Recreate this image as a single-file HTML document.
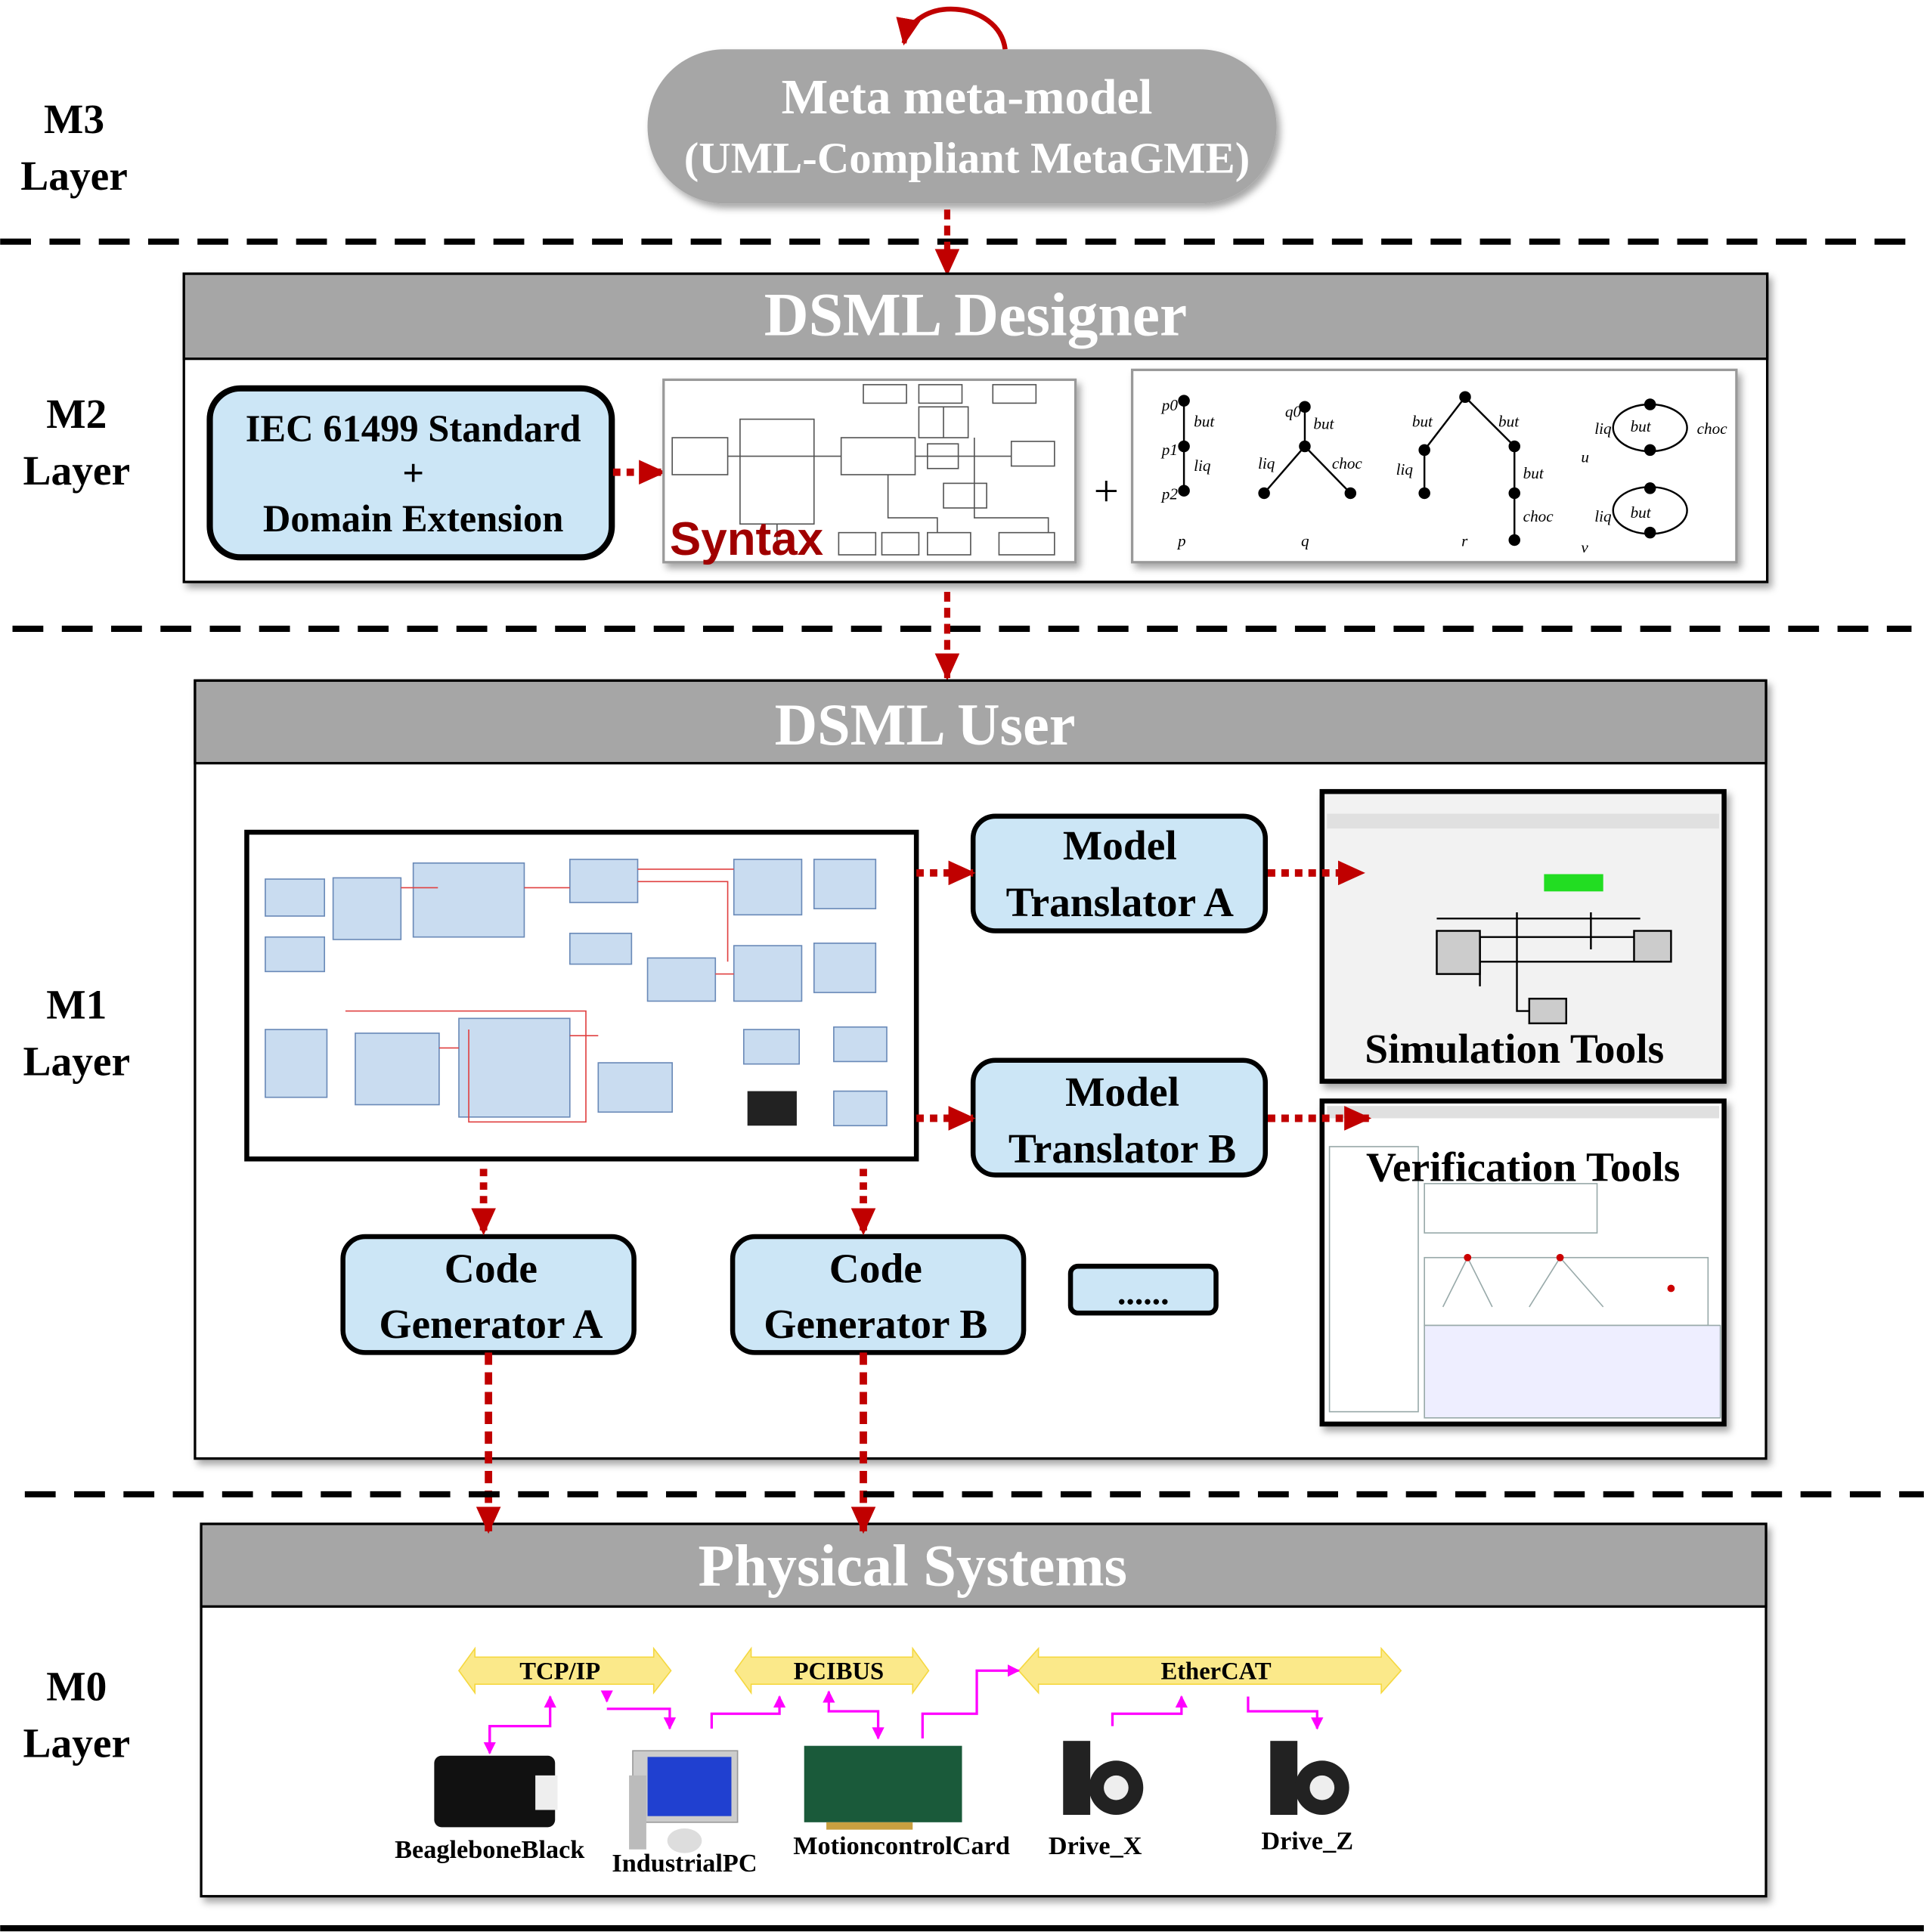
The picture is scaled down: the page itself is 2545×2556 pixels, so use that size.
<!DOCTYPE html>
<html><head><meta charset="utf-8"><style>html,body{margin:0;padding:0;background:#fff}svg{display:block}</style></head><body>
<svg width="2545" height="2556" viewBox="0 0 1560 1567" xmlns="http://www.w3.org/2000/svg" font-family="'Liberation Serif',serif" font-weight="bold">
<defs>
<marker id="ar" markerWidth="22" markerHeight="20" refX="20" refY="10" orient="auto" markerUnits="userSpaceOnUse"><path d="M0,0 L22,10 L0,20 z" fill="#c00000"/></marker>
<marker id="am" markerWidth="10" markerHeight="10" refX="9" refY="5" orient="auto" markerUnits="userSpaceOnUse"><path d="M0,0 L10,5 L0,10 z" fill="#ff00ff"/></marker>
<filter id="sh"><feDropShadow dx="3" dy="4" stdDeviation="3" flood-opacity="0.35"/></filter>
</defs>
<g font-size="34" text-anchor="middle" fill="#000">
<text x="60" y="108">M3</text><text x="60" y="154">Layer</text>
<text x="62" y="347">M2</text><text x="62" y="393">Layer</text>
<text x="62" y="826">M1</text><text x="62" y="872">Layer</text>
<text x="62" y="1379">M0</text><text x="62" y="1425">Layer</text>
</g>
<path d="M815,40 C810,0 740,-5 733,35" fill="none" stroke="#c00000" stroke-width="4" marker-end="url(#ar)"/>
<rect x="525" y="40" width="510" height="125" rx="62" fill="#a6a6a6" filter="url(#sh)"/>
<text x="784" y="92" font-size="40" fill="#fff" text-anchor="middle">Meta meta-model</text>
<text x="784" y="140" font-size="36" fill="#fff" text-anchor="middle">(UML-Compliant MetaGME)</text>
<line x1="0" y1="196" x2="1545" y2="196" stroke="#000" stroke-width="5" stroke-dasharray="25,15"/>
<line x1="768" y1="170" x2="768" y2="222" stroke="#c00000" stroke-width="5" stroke-dasharray="8,5" marker-end="url(#ar)"/>
<g filter="url(#sh)"><rect x="149" y="222" width="1284" height="250" fill="#fff" stroke="#000" stroke-width="2"/></g>
<rect x="149" y="222" width="1284" height="69" fill="#a6a6a6" stroke="#000" stroke-width="2"/>
<text x="791" y="272" font-size="50" fill="#fff" text-anchor="middle">DSML Designer</text>
<rect x="170" y="315" width="326" height="137" rx="25" fill="#cce6f6" stroke="#000" stroke-width="5"/>
<g font-size="31" text-anchor="middle"><text x="335" y="358">IEC 61499 Standard</text><text x="335" y="394">+</text><text x="335" y="431">Domain Extension</text></g>
<line x1="497" y1="383" x2="538" y2="383" stroke="#c00000" stroke-width="6" stroke-dasharray="6,5" marker-end="url(#ar)"/>
<rect x="538" y="308" width="334" height="148" fill="#fff" stroke="#999" stroke-width="2" filter="url(#sh)"/>
<g fill="none" stroke="#555" stroke-width="1">
<rect x="545" y="355" width="45" height="30"/><rect x="600" y="340" width="60" height="85"/><rect x="682" y="355" width="60" height="30"/><rect x="745" y="330" width="40" height="25"/><rect x="700" y="312" width="35" height="15"/><rect x="745" y="312" width="35" height="15"/><rect x="805" y="312" width="35" height="15"/><rect x="820" y="358" width="35" height="20"/><rect x="752" y="360" width="25" height="20"/><rect x="765" y="392" width="35" height="20"/><rect x="715" y="432" width="30" height="18"/><rect x="752" y="432" width="35" height="18"/><rect x="810" y="432" width="45" height="18"/><rect x="680" y="432" width="30" height="18"/>
<path d="M590,370 H682 M742,370 H820 M765,355 V330 M630,425 V445 M720,385 V420 H760 V432 M790,355 V420 H850 V432"/>
</g>
<text x="543" y="450" font-family="'Liberation Sans',sans-serif" font-size="38" fill="#a00000">Syntax</text>
<text x="897" y="410" font-size="36" font-weight="normal" text-anchor="middle">+</text>
<rect x="918" y="300" width="490" height="156" fill="#fff" stroke="#999" stroke-width="2" filter="url(#sh)"/>
<g stroke="#000" stroke-width="1.5" fill="#000">
<line x1="960" y1="325" x2="960" y2="398"/><circle cx="960" cy="325" r="4"/><circle cx="960" cy="362" r="4"/><circle cx="960" cy="398" r="4"/>
<line x1="1058" y1="330" x2="1058" y2="362"/><line x1="1058" y1="362" x2="1025" y2="400"/><line x1="1058" y1="362" x2="1095" y2="400"/><circle cx="1058" cy="330" r="4"/><circle cx="1058" cy="362" r="4"/><circle cx="1025" cy="400" r="4"/><circle cx="1095" cy="400" r="4"/>
<line x1="1188" y1="322" x2="1155" y2="365"/><line x1="1188" y1="322" x2="1228" y2="362"/><line x1="1155" y1="365" x2="1155" y2="400"/><line x1="1228" y1="362" x2="1228" y2="438"/><circle cx="1188" cy="322" r="4"/><circle cx="1155" cy="365" r="4"/><circle cx="1155" cy="400" r="4"/><circle cx="1228" cy="362" r="4"/><circle cx="1228" cy="400" r="4"/><circle cx="1228" cy="438" r="4"/>
<circle cx="1338" cy="328" r="4"/><circle cx="1338" cy="365" r="4"/><circle cx="1338" cy="396" r="4"/><circle cx="1338" cy="432" r="4"/>
</g>
<g fill="none" stroke="#000" stroke-width="1.5"><ellipse cx="1338" cy="347" rx="30" ry="19"/><ellipse cx="1338" cy="414" rx="30" ry="19"/></g>
<g font-family="'Liberation Serif',serif" font-style="italic" font-weight="normal" font-size="13">
<text x="942" y="333">p0</text><text x="968" y="346">but</text><text x="942" y="369">p1</text><text x="968" y="382">liq</text><text x="942" y="405">p2</text><text x="955" y="443">p</text>
<text x="1042" y="338">q0</text><text x="1065" y="348">but</text><text x="1020" y="380">liq</text><text x="1080" y="380">choc</text><text x="1055" y="443">q</text>
<text x="1145" y="346">but</text><text x="1215" y="346">but</text><text x="1132" y="385">liq</text><text x="1235" y="388">but</text><text x="1235" y="423">choc</text><text x="1185" y="443">r</text>
<text x="1293" y="352">liq</text><text x="1322" y="350">but</text><text x="1376" y="352">choc</text><text x="1282" y="375">u</text><text x="1293" y="423">liq</text><text x="1322" y="420">but</text><text x="1282" y="448">v</text>
</g>
<line x1="10" y1="510" x2="1550" y2="510" stroke="#000" stroke-width="5" stroke-dasharray="25,15"/>
<line x1="768" y1="480" x2="768" y2="550" stroke="#c00000" stroke-width="5" stroke-dasharray="8,5" marker-end="url(#ar)"/>
<g filter="url(#sh)"><rect x="158" y="552" width="1274" height="631" fill="#fff" stroke="#000" stroke-width="2"/></g>
<rect x="158" y="552" width="1274" height="67" fill="#a6a6a6" stroke="#000" stroke-width="2"/>
<text x="750" y="604" font-size="48" fill="#fff" text-anchor="middle">DSML User</text>
<rect x="200" y="675" width="543" height="265" fill="#fff" stroke="#000" stroke-width="4"/>
<g fill="#c9dcf0" stroke="#6a8ab8" stroke-width="1">
<rect x="215" y="713" width="48" height="30"/><rect x="215" y="760" width="48" height="28"/><rect x="270" y="712" width="55" height="50"/><rect x="335" y="700" width="90" height="60"/><rect x="462" y="697" width="55" height="35"/><rect x="595" y="697" width="55" height="45"/><rect x="660" y="697" width="50" height="40"/><rect x="462" y="757" width="50" height="25"/><rect x="525" y="777" width="55" height="35"/><rect x="595" y="767" width="55" height="45"/><rect x="660" y="765" width="50" height="40"/><rect x="215" y="835" width="50" height="55"/><rect x="288" y="838" width="68" height="58"/><rect x="372" y="826" width="90" height="80"/><rect x="485" y="862" width="60" height="40"/><rect x="603" y="835" width="45" height="28"/><rect x="676" y="833" width="43" height="28"/><rect x="676" y="885" width="43" height="28"/></g>
<rect x="606" y="885" width="40" height="28" fill="#222"/>
<g fill="none" stroke="#e04040" stroke-width="1"><path d="M325,720 H355 M425,720 H462 M517,705 H595 M517,715 H590 V780 M580,790 H595 M356,850 H372 M462,840 H485 M280,820 H475 V910 H380 V835"/></g>
<rect x="789" y="662" width="237" height="93" rx="18" fill="#cce6f6" stroke="#000" stroke-width="4"/>
<g font-size="34" text-anchor="middle"><text x="908" y="697">Model</text><text x="908" y="743">Translator A</text></g>
<rect x="789" y="860" width="237" height="93" rx="18" fill="#cce6f6" stroke="#000" stroke-width="4"/>
<g font-size="34" text-anchor="middle"><text x="910" y="897">Model</text><text x="910" y="943">Translator B</text></g>
<line x1="743" y1="708" x2="789" y2="708" stroke="#c00000" stroke-width="6" stroke-dasharray="6,5" marker-end="url(#ar)"/>
<line x1="743" y1="907" x2="789" y2="907" stroke="#c00000" stroke-width="6" stroke-dasharray="6,5" marker-end="url(#ar)"/>
<line x1="1028" y1="708" x2="1105" y2="708" stroke="#c00000" stroke-width="6" stroke-dasharray="6,5" marker-end="url(#ar)"/>
<line x1="1028" y1="907" x2="1110" y2="907" stroke="#c00000" stroke-width="6" stroke-dasharray="6,5" marker-end="url(#ar)"/>
<rect x="1072" y="642" width="326" height="235" fill="#f2f2f2" stroke="#000" stroke-width="4" filter="url(#sh)"/>
<rect x="1076" y="660" width="318" height="12" fill="#e0e0e0"/>
<rect x="1252" y="709" width="48" height="14" fill="#22dd22"/>
<g fill="none" stroke="#000" stroke-width="1.5"><path d="M1165,745 H1330 M1165,760 H1330 M1230,740 V820 H1260 M1290,740 V770 M1200,760 V800 M1165,780 H1330"/><rect x="1165" y="755" width="35" height="35" fill="#ccc"/><rect x="1325" y="755" width="30" height="25" fill="#ccc"/><rect x="1240" y="810" width="30" height="20" fill="#ccc"/></g>
<line x1="1028" y1="708" x2="1105" y2="708" stroke="#c00000" stroke-width="6" stroke-dasharray="6,5" marker-end="url(#ar)"/>
<text x="1228" y="862" font-size="34" text-anchor="middle">Simulation Tools</text>
<rect x="1072" y="893" width="326" height="262" fill="#fff" stroke="#000" stroke-width="4" filter="url(#sh)"/>
<rect x="1076" y="897" width="318" height="10" fill="#e0e0e0"/>
<g fill="none" stroke="#9aa" stroke-width="1"><rect x="1078" y="930" width="72" height="215"/><rect x="1155" y="960" width="140" height="40"/><rect x="1155" y="1020" width="230" height="55"/><rect x="1155" y="1075" width="240" height="75" fill="#eef"/><path d="M1190,1020 L1170,1060 M1190,1020 L1210,1060 M1265,1020 L1240,1060 M1265,1020 L1300,1060"/></g>
<g fill="#c00"><circle cx="1190" cy="1020" r="3"/><circle cx="1265" cy="1020" r="3"/><circle cx="1355" cy="1045" r="3"/></g>
<line x1="1028" y1="907" x2="1110" y2="907" stroke="#c00000" stroke-width="6" stroke-dasharray="6,5" marker-end="url(#ar)"/>
<text x="1235" y="958" font-size="34" text-anchor="middle">Verification Tools</text>
<rect x="278" y="1003" width="236" height="94" rx="18" fill="#cce6f6" stroke="#000" stroke-width="4"/>
<g font-size="34" text-anchor="middle"><text x="398" y="1040">Code</text><text x="398" y="1085">Generator A</text></g>
<rect x="594" y="1003" width="236" height="94" rx="18" fill="#cce6f6" stroke="#000" stroke-width="4"/>
<g font-size="34" text-anchor="middle"><text x="710" y="1040">Code</text><text x="710" y="1085">Generator B</text></g>
<rect x="868" y="1027" width="118" height="38" rx="6" fill="#cce6f6" stroke="#000" stroke-width="4"/>
<text x="927" y="1058" font-size="28" text-anchor="middle">......</text>
<line x1="392" y1="948" x2="392" y2="1000" stroke="#c00000" stroke-width="6" stroke-dasharray="6,5" marker-end="url(#ar)"/>
<line x1="700" y1="948" x2="700" y2="1000" stroke="#c00000" stroke-width="6" stroke-dasharray="6,5" marker-end="url(#ar)"/>
<line x1="396" y1="1097" x2="396" y2="1242" stroke="#c00000" stroke-width="6" stroke-dasharray="10,6" marker-end="url(#ar)"/>
<line x1="700" y1="1097" x2="700" y2="1242" stroke="#c00000" stroke-width="6" stroke-dasharray="10,6" marker-end="url(#ar)"/>
<line x1="20" y1="1212" x2="1560" y2="1212" stroke="#000" stroke-width="5" stroke-dasharray="25,15"/>
<g filter="url(#sh)"><rect x="163" y="1236" width="1269" height="302" fill="#fff" stroke="#000" stroke-width="2"/></g>
<rect x="163" y="1236" width="1269" height="67" fill="#a6a6a6" stroke="#000" stroke-width="2"/>
<line x1="396" y1="1225" x2="396" y2="1242" stroke="#c00000" stroke-width="6" marker-end="url(#ar)"/>
<line x1="700" y1="1225" x2="700" y2="1242" stroke="#c00000" stroke-width="6" marker-end="url(#ar)"/>
<text x="740" y="1286" font-size="48" fill="#fff" text-anchor="middle">Physical Systems</text>
<g fill="#fbe98a" stroke="#f5d840" stroke-width="1">
<path d="M372,1355 L385,1337 V1344 H530 V1337 L544,1355 L530,1373 V1366 H385 V1373 Z"/>
<path d="M596,1355 L609,1337 V1344 H740 V1337 L753,1355 L740,1373 V1366 H609 V1373 Z"/>
<path d="M826,1355 L842,1337 V1344 H1120 V1337 L1136,1355 L1120,1373 V1366 H842 V1373 Z"/>
</g>
<g font-size="20" text-anchor="middle"><text x="454" y="1362">TCP/IP</text><text x="680" y="1362">PCIBUS</text><text x="986" y="1362">EtherCAT</text></g>
<g fill="none" stroke="#ff00ff" stroke-width="2">
<path d="M397,1420 V1400 H446 V1376" marker-end="url(#am)"/>
<path d="M397,1400 V1422" marker-end="url(#am)"/>
<path d="M492,1376 V1380" marker-end="url(#am)"/><path d="M492,1386 H543 V1402" marker-end="url(#am)"/>
<path d="M577,1402 V1390 H632 V1376" marker-end="url(#am)"/>
<path d="M672,1376 V1372" marker-end="url(#am)"/><path d="M672,1376 V1388 H712 V1410" marker-end="url(#am)"/>
<path d="M748,1410 V1390 H792 V1355 H826" marker-end="url(#am)"/>
<path d="M902,1400 V1390 H958 V1376" marker-end="url(#am)"/>
<path d="M1012,1376 V1388 H1068 V1402" marker-end="url(#am)"/>
</g>
<rect x="352" y="1424" width="98" height="58" rx="6" fill="#111"/><rect x="434" y="1440" width="18" height="28" fill="#eee"/>
<rect x="513" y="1420" width="85" height="58" fill="#ccc" stroke="#999"/><rect x="525" y="1425" width="68" height="48" fill="#2040d0"/><rect x="510" y="1440" width="14" height="60" fill="#bbb"/><ellipse cx="555" cy="1493" rx="14" ry="10" fill="#ddd"/>
<rect x="652" y="1416" width="128" height="62" fill="#1a5a3a"/><rect x="670" y="1478" width="70" height="6" fill="#c8a040"/>
<rect x="862" y="1412" width="22" height="60" fill="#222"/><circle cx="905" cy="1450" r="22" fill="#222"/><circle cx="905" cy="1450" r="10" fill="#eee"/>
<rect x="1030" y="1412" width="22" height="60" fill="#222"/><circle cx="1072" cy="1450" r="22" fill="#222"/><circle cx="1072" cy="1450" r="10" fill="#eee"/>
<g font-size="21" text-anchor="middle"><text x="397" y="1507">BeagleboneBlack</text><text x="555" y="1518">IndustrialPC</text><text x="731" y="1504">MotioncontrolCard</text><text x="888" y="1504">Drive_X</text><text x="1060" y="1500">Drive_Z</text></g>
<line x1="0" y1="1564" x2="1560" y2="1564" stroke="#000" stroke-width="5"/>
</svg>
</body></html>
